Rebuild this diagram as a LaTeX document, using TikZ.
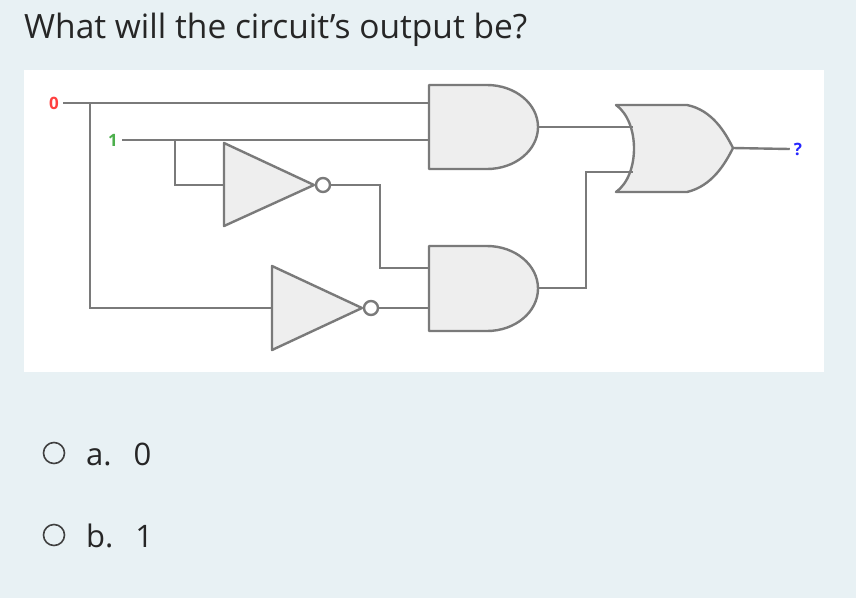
\documentclass[tikz,border=0pt]{standalone}
\usepackage{fontspec}
\setmainfont{Open Sans}
\usetikzlibrary{positioning}
\definecolor{pagebg}{HTML}{E8F1F4}
\definecolor{wire}{HTML}{7A7A7A}
\definecolor{gatefill}{HTML}{EEEEEE}
\tikzset{
  gate/.style={draw=wire, fill=gatefill, line width=2.4pt, line join=round},
  wire/.style={draw=wire, line width=2.4pt},
  bubble/.style={circle, draw=wire, fill=white, line width=2.4pt, minimum size=14pt, inner sep=0pt},
  radio/.style={circle, draw=black!75, line width=1.6pt, minimum size=21pt, inner sep=0pt},
  opt/.style={font=\fontsize{31}{34}\selectfont\color{black!85}, anchor=base west, inner sep=0pt},
  val/.style={font=\bfseries\fontsize{17}{18}\selectfont, inner sep=4pt}
}
\begin{document}
\begin{tikzpicture}[x=1pt,y=-1pt]
\useasboundingbox[fill=pagebg] (0,0) rectangle (856,598);
\fill[white] (24,70) rectangle (824,372);

% title and answers
\node[opt, font=\fontsize{33.5}{38}\selectfont\color{black!85}] (title) at (24,38) {What will the circuit's output be?};
\node[radio] (ra) at (54,453) {};
\node[opt] (la) at (86,465) {a.\hspace{22pt}0};
\node[radio] (rb) at (54,535) {};
\node[opt] (lb) at (86,547) {b.\hspace{22pt}1};

% inputs
\node[val, text=red!75] (in0) at (54,103) {0};
\node[val, text=green!55!black!70] (in1) at (113,140) {1};
\node[val, text=blue!85] (out) at (798,149) {?};

% gates
\path[gate] (429,85) -- (487,85) arc[start angle=-90, end angle=90, x radius=51, y radius=42] -- (429,169) -- cycle;
\path[gate] (429,246) -- (487,246) arc[start angle=-90, end angle=90, x radius=51, y radius=42.5] -- (429,331) -- cycle;
\path[gate] (616,105) -- (687,105) .. controls (712,110) and (725,132) .. (733,148)
  .. controls (725,164) and (712,186) .. (687,192) -- (616,192)
  .. controls (640,175) and (640,122) .. (616,105) -- cycle;
\path[gate] (224,143) -- (314,185) -- (224,226) -- cycle;
\node[bubble] (b1) at (323,185) {};
\path[gate] (272,266) -- (362,308) -- (272,350) -- cycle;
\node[bubble] (b2) at (371,308) {};

% wires
\coordinate (j0) at (90,103);
\coordinate (j1) at (175,140);
\draw[wire] (in0.east) -- (429,103);
\draw[wire] (j0) |- (272,308);
\draw[wire] (in1.east) -- (429,140);
\draw[wire] (j1) |- (224,185);
\draw[wire] (b1.east) -- (380,185) |- (429,268);
\draw[wire] (b2.east) -- (429,308);
\draw[wire] (538,127) -- (633,127);
\draw[wire] (538,288) -- (586,288) |- (633,172);
\draw[wire] (733,148) -- (out.west);
\end{tikzpicture}
\end{document}
